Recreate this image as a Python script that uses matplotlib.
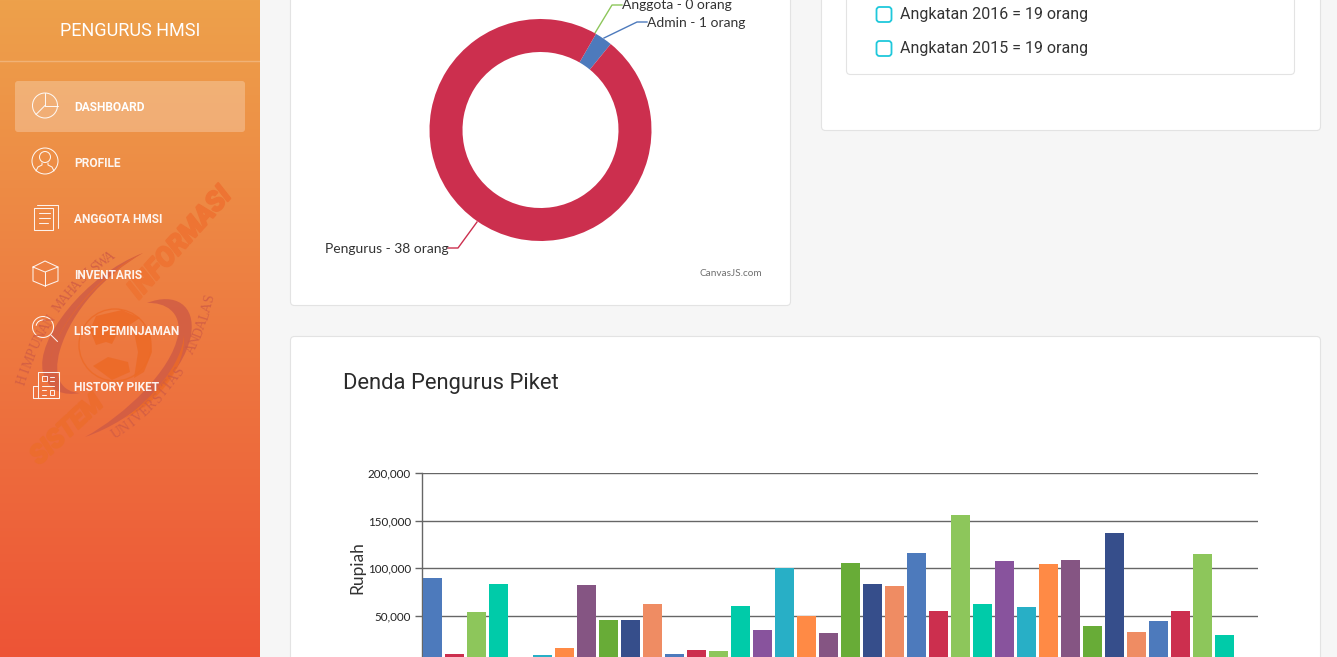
import matplotlib
matplotlib.use('Agg')
import matplotlib.pyplot as plt
import matplotlib.patches as patches
import matplotlib.patheffects as pe
from matplotlib.path import Path
from matplotlib.ticker import FuncFormatter
import numpy as np

W, H = 1337, 657

# --- Data ---
donut_labels = ['Anggota - 0 orang', 'Admin - 1 orang', 'Pengurus - 38 orang']
donut_values = [0, 1, 38]
donut_colors = ['#8DC65B', '#4D7ABC', '#CC2F4E']

bar_values = [90000, 10000, 54200, 83400, 0, 8500, 16400, 82600, 45800, 45800,
              62700, 9500, 14000, 13000, 60500, 35300, 100000, 50000, 32200, 105800,
              83700, 81600, 116300, 55300, 156300, 62700, 107900, 59500, 104700, 109000,
              39500, 137300, 33200, 44800, 55300, 115200, 30000]
bar_palette = ['#4D7ABC', '#CC2F4E', '#8DC65B', '#00CBA9', '#88539D', '#28AFC6',
               '#FF8A45', '#855583', '#68AC37', '#364E8B', '#EF8C63']
y_ticks = [50000, 100000, 150000, 200000]

menu_labels = ['DASHBOARD', 'PROFILE', 'ANGGOTA HMSI', 'INVENTARIS', 'LIST PEMINJAMAN', 'HISTORY PIKET']
menu_y = [107.5, 163.5, 219.5, 275.5, 331.5, 387.5]
angkatan_labels = ['Angkatan 2016 = 19 orang', 'Angkatan 2015 = 19 orang']
angkatan_y = [14, 48]

CHART_FONT = ['Lato', 'DejaVu Sans']
BORDER = '#E3E3E3'
MARK = '#EC6A26'
MARK_DARK = '#CE5A45'
CAPTION = '#CF5B45'


def px_axes(left, top, right, bottom, **kw):
    return fig.add_axes([left / W, 1 - bottom / H, (right - left) / W, (bottom - top) / H], **kw)


def card(left, top, right, bottom):
    ax.add_patch(patches.FancyBboxPatch((left, top), right - left, bottom - top,
                                        boxstyle='round,pad=0,rounding_size=4',
                                        fc='white', ec=BORDER, lw=0.8))


def curve(points, **kw):
    # closed bezier shape from (x, y) pixel points: start + triples of CURVE4
    codes = [Path.MOVETO] + [Path.CURVE4] * (len(points) - 1)
    ax.add_patch(patches.PathPatch(Path(points, codes), **kw))


def caption(text, p0, p1, p2):
    # letters along a quadratic bezier, turned to follow it
    p0, p1, p2 = np.array(p0), np.array(p1), np.array(p2)
    for ch, t in zip(text, np.linspace(0, 1, len(text))):
        pos = (1 - t) ** 2 * p0 + 2 * t * (1 - t) * p1 + t ** 2 * p2
        d = (1 - t) * (p1 - p0) + t * (p2 - p1)
        ax.text(pos[0], pos[1], ch, rotation=np.degrees(np.arctan2(-d[1], d[0])),
                rotation_mode='anchor', ha='center', va='center',
                family='Liberation Serif', fontsize=10, color=CAPTION, alpha=0.85)


def line(xs, ys, lw=0.75, color='white', alpha=0.9):
    ax.plot(xs, ys, color=color, lw=lw, alpha=alpha, solid_capstyle='round')


def circle(x, y, r, lw=0.75):
    ax.add_patch(patches.Circle((x, y), r, fill=False, ec='white', lw=lw, alpha=0.9))


def rect(x, y, w, h, lw=0.75):
    ax.add_patch(patches.Rectangle((x, y), w, h, fill=False, ec='white', lw=lw, alpha=0.9))


def draw_icons():
    # pie
    circle(45, 105.5, 12.5)
    line([45, 45, 57.5], [93, 105.5, 105.5])
    line([45, 36], [105.5, 114.5])
    # profile
    circle(45, 161, 13)
    circle(45, 157, 5.5)
    line([36, 38, 42, 42], [171, 167, 165, 163])
    line([54, 52, 48, 48], [171, 167, 165, 163])
    # documents
    rect(34, 208, 19, 22)
    line([37, 57.5, 57.5], [204.5, 204.5, 228])
    line([39, 50], [213, 213])
    line([39, 50], [218, 218])
    line([39, 48], [223, 223])
    # box
    line([33, 45, 58, 58, 45, 33, 33], [267, 261, 267, 281, 286, 281, 267])
    line([33, 45, 58], [267, 272, 267])
    line([45, 45], [272, 286])
    # magnifier
    circle(43, 327, 10.5)
    line([51, 57.5], [335, 341.5])
    ax.add_patch(patches.Arc((43, 327), 14, 14, theta1=190, theta2=290, ec='white', lw=0.7))
    # newspaper
    rect(37.5, 372, 21, 26)
    line([37.5, 33, 33, 37.5], [386, 386, 398, 398])
    rect(42, 376, 5, 5, lw=0.7)
    rect(49.5, 390, 4.5, 5, lw=0.7)
    line([50, 54], [377, 377])
    line([50, 54], [381, 381])
    line([42, 54], [385.5, 385.5])
    line([42, 46], [390, 390])
    line([42, 46], [394.5, 394.5])


def draw_watermark():
    # swooshes
    curve([(143, 253), (85, 275), (35, 340), (43, 372), (48, 392), (65, 396), (80, 393),
           (62, 392), (52, 378), (60, 350), (72, 310), (105, 275), (143, 253)],
          fc=MARK_DARK, ec='none', alpha=0.8)
    curve([(143, 253), (95, 275), (50, 335), (50, 365), (50, 340), (85, 285), (143, 253)],
          fc=MARK, ec='none', alpha=0.8)
    curve([(147, 303), (175, 292), (196, 305), (191, 335), (184, 375), (135, 420), (85, 437),
           (125, 415), (172, 370), (178, 335), (182, 312), (165, 302), (147, 303)],
          fc=MARK_DARK, ec='none', alpha=0.8)
    curve([(125, 418), (150, 400), (182, 365), (184, 335), (186, 370), (155, 405), (125, 418)],
          fc=MARK, ec='none', alpha=0.8)
    # globe
    ax.add_patch(patches.Circle((115, 345), 36, fc='none', ec=MARK, lw=1, alpha=0.8))
    land = [[(90, 330), (96, 316), (122, 310), (140, 318), (128, 326), (118, 332),
             (112, 344), (106, 342), (96, 345)],
            [(93, 366), (108, 357), (128, 362), (130, 372), (112, 380)],
            [(134, 332), (150, 334), (152, 352), (144, 372), (134, 378), (138, 352)]]
    for shape in land:
        ax.add_patch(patches.Polygon(shape, fc=MARK, ec='none', alpha=0.85))
    stroke = [pe.withStroke(linewidth=1.5, foreground='#EE7433')]
    ax.text(180, 243, 'INFORMASI', rotation=48, rotation_mode='anchor', ha='center', va='center',
            family='Roboto', fontsize=19.5, fontweight='bold', style='italic',
            color='#EE7433', path_effects=stroke)
    ax.text(67, 430, 'SISTEM', rotation=43, rotation_mode='anchor', ha='center', va='center',
            family='Roboto', fontsize=18.5, fontweight='bold', style='italic',
            color='#EC6C2E', path_effects=[pe.withStroke(linewidth=1.5, foreground='#EC6C2E')])
    caption('HIMPUNAN MAHASISWA', (23, 380), (48, 300), (110, 257))
    caption('UNIVERSITAS  ANDALAS', (117, 433), (190, 385), (210, 298))


fig = plt.figure(figsize=(W / 100, H / 100), dpi=100, facecolor='#F6F6F6')

# --- Page layer in pixel coordinates ---
ax = px_axes(0, 0, W, H)
ax.axis('off')

gradient = np.linspace(0, 1, 256)[:, None, None]
top_col = np.array([237, 161, 75]) / 255
bottom_col = np.array([238, 84, 54]) / 255
ax.imshow(top_col + (bottom_col - top_col) * gradient, extent=[0, 260, H, 0], aspect='auto', zorder=0)
ax.set_xlim(0, W)
ax.set_ylim(H, 0)

draw_watermark()

ax.plot([0, 260], [60.5, 60.5], color='white', alpha=0.25, lw=1)
ax.add_patch(patches.FancyBboxPatch((15, 81), 230, 51, boxstyle='round,pad=0,rounding_size=3',
                                    fc='white', ec='none', alpha=0.25))
ax.text(130, 31.5, 'PENGURUS HMSI', color='white', family='Roboto', fontsize=13,
        ha='center', va='center')
for label, y in zip(menu_labels, menu_y):
    ax.text(74.5, y, label, color='white', family='Roboto', fontsize=8.6, fontweight='bold',
            va='center', alpha=0.92 if label != 'DASHBOARD' else 1)
draw_icons()

card(290.5, -10, 790.5, 305.5)
card(821.5, -10, 1320.5, 130.5)
card(290.5, 336.5, 1320.5, H + 20)
card(846.5, -10, 1294.5, 74.5)

for label, y in zip(angkatan_labels, angkatan_y):
    ax.add_patch(patches.FancyBboxPatch((876.5, y - 7), 15, 15, boxstyle='round,pad=0,rounding_size=3',
                                        fc='white', ec='#1FC8DB', lw=1.3))
    ax.text(900, y + 0.5, label, family='Roboto', fontsize=11.5, color='#333333', va='center')

ax.text(343, 384, 'Denda Pengurus Piket', family='Roboto', fontsize=15.8, color='#2B2B2B', va='center')

# leader lines and donut labels
ax.plot([595, 612, 622], [33, 5, 5], color=donut_colors[0], lw=1)
ax.plot([604, 637, 647], [38, 22, 22], color=donut_colors[1], lw=1)
ax.plot([477, 458, 448], [222, 248, 248], color=donut_colors[2], lw=1)
ax.text(622, 5, donut_labels[0], family=CHART_FONT, fontsize=10, color='#333333', va='center')
ax.text(647, 23, donut_labels[1], family=CHART_FONT, fontsize=10, color='#333333', va='center')
ax.text(449, 249, donut_labels[2], family=CHART_FONT, fontsize=10, color='#333333', va='center', ha='right')
ax.text(762, 273.5, 'CanvasJS.com', family=CHART_FONT, fontsize=7.2, color='#6F6F6F', va='center', ha='right')

# --- Donut ---
ax_pie = px_axes(429.5, 19, 651.5, 241)
ax_pie.pie(donut_values, colors=donut_colors, startangle=60, counterclock=False,
           radius=1, wedgeprops={'width': 33 / 111, 'linewidth': 0})
ax_pie.set_xlim(-1, 1)
ax_pie.set_ylim(-1, 1)
ax_pie.patch.set_visible(False)

# --- Bars ---
ax_bar = px_axes(422, 473, 1258, 663.2)
ax_bar.patch.set_visible(False)
x = np.arange(len(bar_values))
colors = [bar_palette[i % len(bar_palette)] for i in x]
ax_bar.bar(x, bar_values, width=19 / 22, color=colors, linewidth=0, zorder=3)
ax_bar.set_xlim(-10.5 / 22, 836 / 22 - 10.5 / 22)
ax_bar.set_ylim(0, 200000)
ax_bar.set_yticks(y_ticks)
ax_bar.yaxis.set_major_formatter(FuncFormatter(lambda v, _: f'{int(v):,}'))
ax_bar.set_xticks([])
ax_bar.grid(axis='y', color='#666666', lw=1, zorder=1)
ax_bar.set_axisbelow(True)
for side in ['top', 'right', 'bottom']:
    ax_bar.spines[side].set_visible(False)
ax_bar.spines['left'].set_color('#666666')
ax_bar.spines['left'].set_linewidth(1)
ax_bar.tick_params(axis='y', length=5, width=1, color='#666666', pad=3, labelsize=8.4)
for t in ax_bar.get_yticklabels():
    t.set_family(CHART_FONT)
    t.set_color('#222222')
ax.text(357.5, 568, 'Rupiah', family=CHART_FONT, fontsize=12.5, color='#333333', rotation=90,
        ha='center', va='center')

fig.savefig('out.png', dpi=100, facecolor=fig.get_facecolor())
